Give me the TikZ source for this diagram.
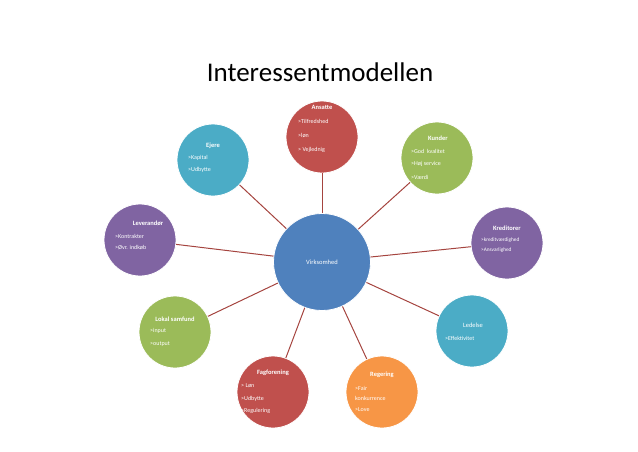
\documentclass[tikz,border=0pt]{standalone}
\usepackage{fontspec}
\setmainfont{Carlito}
\definecolor{cred}{HTML}{C0504D}
\definecolor{cblue}{HTML}{4F81BD}
\definecolor{cteal}{HTML}{4BACC6}
\definecolor{cgreen}{HTML}{9BBB59}
\definecolor{cpurple}{HTML}{8064A2}
\definecolor{corange}{HTML}{F79646}
\definecolor{cline}{HTML}{A5443F}
\begin{document}
\begin{tikzpicture}[x=1pt,y=-1pt,
  bub/.style={circle,draw=white,line width=0.8pt,minimum size=72pt,inner sep=0pt},
  hd/.style={text=white,font=\bfseries\fontsize{6.5}{7}\selectfont,inner sep=0pt},
  it/.style={text=white,font=\fontsize{6}{7}\selectfont,inner sep=0pt,anchor=west},
  con/.style={cline,line width=1pt}]
\useasboundingbox (0,0) rectangle (638,451);
\node[font=\fontsize{27}{30}\selectfont] (title) at (320,72) {Interessentmodellen};
\node[bub,fill=cblue,minimum size=97pt] (v) at (322,262) {};
\node[bub,fill=cred] (ans) at (322,137) {};
\node[bub,fill=cteal] (eje) at (213,160) {};
\node[bub,fill=cgreen] (kun) at (437,158) {};
\node[bub,fill=cpurple] (lev) at (140,240) {};
\node[bub,fill=cpurple] (kre) at (507,243) {};
\node[bub,fill=cgreen] (lok) at (175,332) {};
\node[bub,fill=cteal] (led) at (472,331) {};
\node[bub,fill=cred] (fag) at (273,392) {};
\node[bub,fill=corange] (reg) at (382,392) {};
\foreach \n in {ans,eje,kun,lev,kre,lok,led,fag,reg} \draw[con] (v) -- (\n);
\node[hd,font=\fontsize{6.5}{7}\selectfont] (vt) at (322,262) {Virksomhed};
\node[hd] (h1) at (322,107) {Ansatte};
\node[it] (a1) at (298,121) {>Tilfredshed};
\node[it] (a2) at (298,136) {>løn};
\node[it] (a3) at (298,150) {> Vejlednig};
\node[hd] (h2) at (213,146) {Ejere};
\node[it] (e1) at (188,158) {>Kapital};
\node[it] (e2) at (188,170) {>Udbytte};
\node[hd] (h3) at (438,138) {Kunder};
\node[it] (k1) at (411,151) {>God\ \ kvalitet};
\node[it] (k2) at (411,164) {>Høj service};
\node[it] (k3) at (411,177) {>Værdi};
\node[hd] (h4) at (148,223) {Leverandør};
\node[it] (l1) at (115,236) {>Kontrakter};
\node[it] (l2) at (115,248) {>Øvr. indkøb};
\node[hd] (h5) at (507,228) {Kreditorer};
\node[it,font=\fontsize{5.3}{6}\selectfont] (c1) at (481,240) {>kreditværdighed};
\node[it,font=\fontsize{5.3}{6}\selectfont] (c2) at (481,250) {>Ansvarlighed};
\node[hd] (h6) at (175,319) {Lokal samfund};
\node[it] (o1) at (150,331) {>input};
\node[it] (o2) at (150,344) {>output};
\node[hd,font=\fontsize{6.5}{7}\selectfont] (h7) at (473,325) {Ledelse};
\node[it] (d1) at (445,338) {>Effektivitet};
\node[hd] (h8) at (273,373) {Fagforening};
\node[it] (f1) at (241,386) {> Løn};
\node[it] (f2) at (241,399) {>Udbytte};
\node[it] (f3) at (241,411) {>Regulering};
\node[hd] (h9) at (382,375) {Regering};
\node[it] (r1) at (355,388) {>Fair};
\node[it] (r2) at (355,398) {konkurrence};
\node[it] (r3) at (355,410) {>Love};
\end{tikzpicture}
\end{document}
